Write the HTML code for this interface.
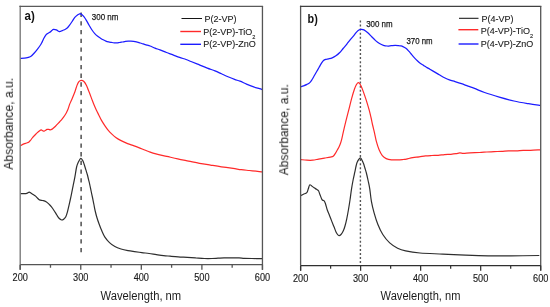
<!DOCTYPE html>
<html><head><meta charset="utf-8"><style>
html,body{margin:0;padding:0;background:#fff;width:550px;height:307px;overflow:hidden}
svg{display:block} text{will-change:transform}
</style></head><body>
<svg width="550" height="307" viewBox="0 0 550 307">
<style>
.tl{font-family:"Liberation Sans",sans-serif;font-size:10px;fill:#1c1c1c;stroke:#1c1c1c;stroke-width:0.15px}
.xl{font-family:"Liberation Sans",sans-serif;font-size:12px;fill:#1c1c1c}
.yl{font-family:"Liberation Sans",sans-serif;font-size:12px;fill:#1c1c1c}
.lg{font-family:"Liberation Sans",sans-serif;font-size:9px;fill:#1c1c1c;stroke:#1c1c1c;stroke-width:0.12px}
.an{font-family:"Liberation Sans",sans-serif;font-size:9.3px;fill:#1a1a1a;stroke:#1a1a1a;stroke-width:0.25px}
.pl{font-family:"Liberation Sans",sans-serif;font-size:12px;font-weight:bold;fill:#111}
</style>
<rect width="550" height="307" fill="#fff"/>
<!-- panel a -->
<line x1="81.1" y1="12.58" x2="81.1" y2="252.7" stroke="#333" stroke-width="1.3" stroke-dasharray="4.3 4.42"/>
<path d="M20.40,193.60 C20.98,193.60 22.83,193.65 23.90,193.60 C24.97,193.55 25.92,193.55 26.80,193.30 C27.68,193.05 28.47,192.10 29.20,192.10 C29.93,192.10 30.47,192.85 31.20,193.30 C31.93,193.75 32.87,194.33 33.60,194.80 C34.33,195.27 34.93,195.53 35.60,196.10 C36.27,196.67 36.95,197.57 37.60,198.20 C38.25,198.83 38.68,199.52 39.50,199.90 C40.32,200.28 41.60,200.30 42.50,200.50 C43.40,200.70 44.10,200.75 44.90,201.10 C45.70,201.45 46.40,201.87 47.30,202.60 C48.20,203.33 49.40,204.52 50.30,205.50 C51.20,206.48 51.88,207.35 52.70,208.50 C53.52,209.65 54.52,211.32 55.20,212.40 C55.88,213.48 56.20,214.07 56.80,215.00 C57.40,215.93 57.98,217.17 58.80,218.00 C59.62,218.83 60.85,219.83 61.70,220.00 C62.55,220.17 63.22,219.53 63.90,219.00 C64.58,218.47 65.23,217.90 65.80,216.80 C66.37,215.70 66.82,214.10 67.30,212.40 C67.78,210.70 68.22,208.67 68.70,206.60 C69.18,204.53 69.77,201.97 70.20,200.00 C70.63,198.03 70.82,197.15 71.30,194.80 C71.78,192.45 72.50,188.88 73.10,185.90 C73.70,182.92 74.32,180.05 74.90,176.90 C75.48,173.75 76.00,169.52 76.60,167.00 C77.20,164.48 77.79,163.25 78.50,161.80 C79.21,160.35 80.12,158.45 80.85,158.30 C81.58,158.15 82.33,159.82 82.90,160.90 C83.48,161.98 83.82,163.35 84.30,164.80 C84.78,166.25 85.30,167.98 85.80,169.60 C86.30,171.22 86.85,172.87 87.30,174.50 C87.75,176.13 88.10,177.77 88.50,179.40 C88.90,181.03 89.27,182.37 89.70,184.30 C90.13,186.23 90.62,188.72 91.10,191.00 C91.58,193.28 92.13,195.75 92.60,198.00 C93.07,200.25 93.47,202.33 93.90,204.50 C94.33,206.67 94.70,208.83 95.20,211.00 C95.70,213.17 96.25,215.33 96.90,217.50 C97.55,219.67 98.30,221.82 99.10,224.00 C99.90,226.18 100.73,228.42 101.70,230.60 C102.67,232.78 103.60,235.10 104.90,237.10 C106.20,239.10 107.83,241.02 109.50,242.60 C111.17,244.18 112.98,245.53 114.90,246.60 C116.82,247.67 118.82,248.33 121.00,249.00 C123.18,249.67 125.75,250.17 128.00,250.60 C130.25,251.03 132.20,251.27 134.50,251.60 C136.80,251.93 139.37,252.28 141.80,252.60 C144.23,252.92 146.67,253.17 149.10,253.50 C151.53,253.83 153.98,254.25 156.40,254.60 C158.82,254.95 161.33,255.33 163.60,255.60 C165.87,255.87 167.57,255.98 170.00,256.20 C172.43,256.42 175.32,256.70 178.20,256.90 C181.08,257.10 184.33,257.22 187.30,257.40 C190.27,257.58 193.13,257.82 196.00,258.00 C198.87,258.18 201.83,258.42 204.50,258.50 C207.17,258.58 209.75,258.55 212.00,258.50 C214.25,258.45 216.00,258.30 218.00,258.20 C220.00,258.10 221.67,257.97 224.00,257.90 C226.33,257.83 229.48,257.80 232.00,257.80 C234.52,257.80 237.05,257.82 239.10,257.90 C241.15,257.98 242.15,258.20 244.30,258.30 C246.45,258.40 248.97,258.45 252.00,258.50 C255.03,258.55 260.75,258.58 262.50,258.60" fill="none" stroke="#2e2e2e" stroke-width="1.2" stroke-linejoin="round"/>
<path d="M20.20,145.80 C20.82,145.48 22.85,144.37 23.90,143.90 C24.95,143.43 25.65,143.32 26.50,143.00 C27.35,142.68 28.28,142.50 29.00,142.00 C29.72,141.50 30.18,140.78 30.80,140.00 C31.42,139.22 32.00,138.13 32.70,137.30 C33.40,136.47 34.27,135.73 35.00,135.00 C35.73,134.27 36.38,133.57 37.10,132.90 C37.82,132.23 38.62,131.50 39.30,131.00 C39.98,130.50 40.62,129.93 41.20,129.90 C41.78,129.87 42.32,130.58 42.80,130.80 C43.28,131.02 43.63,131.30 44.10,131.20 C44.57,131.10 45.12,130.50 45.60,130.20 C46.08,129.90 46.48,129.53 47.00,129.40 C47.52,129.27 48.15,129.33 48.70,129.40 C49.25,129.47 49.80,129.80 50.30,129.80 C50.80,129.80 51.27,129.62 51.70,129.40 C52.13,129.18 52.27,129.03 52.90,128.50 C53.53,127.97 54.53,127.13 55.50,126.20 C56.47,125.27 57.83,123.82 58.70,122.90 C59.57,121.98 59.67,121.97 60.70,120.70 C61.73,119.43 63.70,117.18 64.90,115.30 C66.10,113.42 67.08,111.30 67.90,109.40 C68.72,107.50 69.05,105.80 69.80,103.90 C70.55,102.00 71.53,100.07 72.40,98.00 C73.27,95.93 74.25,93.57 75.00,91.50 C75.75,89.43 76.25,87.23 76.90,85.60 C77.55,83.97 78.17,82.57 78.90,81.70 C79.63,80.83 80.47,80.43 81.30,80.40 C82.13,80.37 83.03,80.65 83.90,81.50 C84.77,82.35 85.77,84.08 86.50,85.50 C87.23,86.92 87.73,88.58 88.30,90.00 C88.87,91.42 89.32,92.48 89.90,94.00 C90.48,95.52 91.15,97.38 91.80,99.10 C92.45,100.82 93.05,102.48 93.80,104.30 C94.55,106.12 95.45,108.18 96.30,110.00 C97.15,111.82 98.03,113.47 98.90,115.20 C99.77,116.93 100.52,118.67 101.50,120.40 C102.48,122.13 103.67,123.93 104.80,125.60 C105.93,127.27 107.12,128.98 108.30,130.40 C109.48,131.82 110.65,132.93 111.90,134.10 C113.15,135.27 114.27,136.32 115.80,137.40 C117.33,138.48 119.13,139.57 121.10,140.60 C123.07,141.63 125.43,142.72 127.60,143.60 C129.77,144.48 131.57,144.97 134.10,145.90 C136.63,146.83 140.38,148.27 142.80,149.20 C145.22,150.13 146.42,150.72 148.60,151.50 C150.78,152.28 152.87,153.08 155.90,153.90 C158.93,154.72 163.17,155.57 166.80,156.40 C170.43,157.23 174.07,158.12 177.70,158.90 C181.33,159.68 184.97,160.37 188.60,161.10 C192.23,161.83 195.85,162.63 199.50,163.30 C203.15,163.97 206.85,164.52 210.50,165.10 C214.15,165.68 217.63,166.25 221.40,166.80 C225.17,167.35 229.78,167.92 233.10,168.40 C236.42,168.88 238.58,169.35 241.30,169.70 C244.02,170.05 246.68,170.23 249.40,170.50 C252.12,170.77 255.48,171.07 257.60,171.30 C259.72,171.53 261.35,171.80 262.10,171.90" fill="none" stroke="#ff2a2a" stroke-width="1.2" stroke-linejoin="round"/>
<path d="M20.30,58.40 C21.00,58.37 23.15,58.38 24.50,58.20 C25.85,58.02 27.32,57.62 28.40,57.30 C29.48,56.98 30.02,57.02 31.00,56.30 C31.98,55.58 33.22,54.20 34.30,53.00 C35.38,51.80 36.42,50.52 37.50,49.10 C38.58,47.68 40.00,45.75 40.80,44.50 C41.60,43.25 41.72,42.77 42.30,41.60 C42.88,40.43 43.60,38.72 44.30,37.50 C45.00,36.28 45.58,35.17 46.50,34.30 C47.42,33.43 48.92,32.92 49.80,32.30 C50.68,31.68 51.20,31.08 51.80,30.60 C52.40,30.12 52.65,29.52 53.40,29.40 C54.15,29.28 55.38,29.55 56.30,29.90 C57.22,30.25 58.20,31.27 58.90,31.50 C59.60,31.73 59.95,31.45 60.50,31.30 C61.05,31.15 61.38,30.93 62.20,30.60 C63.02,30.27 64.52,29.77 65.40,29.30 C66.28,28.83 66.83,28.45 67.50,27.80 C68.17,27.15 68.63,26.45 69.40,25.40 C70.17,24.35 71.20,22.83 72.10,21.50 C73.00,20.17 73.92,18.47 74.80,17.40 C75.68,16.33 76.58,15.70 77.40,15.10 C78.22,14.50 79.02,13.95 79.70,13.80 C80.38,13.65 80.80,13.72 81.50,14.20 C82.20,14.68 83.07,15.63 83.90,16.70 C84.73,17.77 85.63,19.18 86.50,20.60 C87.37,22.02 88.18,23.63 89.10,25.20 C90.02,26.77 91.02,28.57 92.00,30.00 C92.98,31.43 94.05,32.75 95.00,33.80 C95.95,34.85 96.78,35.57 97.70,36.30 C98.62,37.03 99.58,37.62 100.50,38.20 C101.42,38.78 102.30,39.32 103.20,39.80 C104.10,40.28 105.00,40.75 105.90,41.10 C106.80,41.45 107.68,41.68 108.60,41.90 C109.52,42.12 110.48,42.25 111.40,42.40 C112.32,42.55 113.20,42.72 114.10,42.80 C115.00,42.88 115.90,42.95 116.80,42.90 C117.70,42.85 118.58,42.65 119.50,42.50 C120.42,42.35 121.30,42.18 122.30,42.00 C123.30,41.82 124.52,41.53 125.50,41.40 C126.48,41.27 127.30,41.23 128.20,41.20 C129.10,41.17 130.00,41.17 130.90,41.20 C131.80,41.23 132.68,41.28 133.60,41.40 C134.52,41.52 135.48,41.68 136.40,41.90 C137.32,42.12 138.20,42.43 139.10,42.70 C140.00,42.97 140.90,43.22 141.80,43.50 C142.70,43.78 143.58,44.12 144.50,44.40 C145.42,44.68 146.38,44.93 147.30,45.20 C148.22,45.47 148.72,45.52 150.00,46.00 C151.28,46.48 153.33,47.45 155.00,48.10 C156.67,48.75 158.08,49.17 160.00,49.90 C161.92,50.63 164.33,51.67 166.50,52.50 C168.67,53.33 170.82,54.08 173.00,54.90 C175.18,55.72 177.42,56.63 179.60,57.40 C181.78,58.17 184.20,58.82 186.10,59.50 C188.00,60.18 189.08,60.72 191.00,61.50 C192.92,62.28 194.88,63.10 197.60,64.20 C200.32,65.30 204.40,66.98 207.30,68.10 C210.20,69.22 212.63,69.95 215.00,70.90 C217.37,71.85 219.33,72.83 221.50,73.80 C223.67,74.77 225.82,75.77 228.00,76.70 C230.18,77.63 232.60,78.65 234.60,79.40 C236.60,80.15 238.02,80.42 240.00,81.20 C241.98,81.98 244.33,83.18 246.50,84.10 C248.67,85.02 250.83,85.93 253.00,86.70 C255.17,87.47 257.97,88.22 259.50,88.70 C261.03,89.18 261.75,89.45 262.20,89.60" fill="none" stroke="#1c1cff" stroke-width="1.25" stroke-linejoin="round"/>
<line x1="20.2" y1="5.6499999999999995" x2="20.2" y2="264.65" stroke="#777" stroke-width="1.35"/>
<line x1="19.4" y1="6.35" x2="263.09999999999997" y2="6.35" stroke="#5a5a5a" stroke-width="1.3"/>
<line x1="262.45" y1="6.35" x2="262.45" y2="269.84999999999997" stroke="#555" stroke-width="1.3"/>
<line x1="20.2" y1="264.65" x2="262.45" y2="264.65" stroke="#555" stroke-width="1.3"/>
<line x1="20.2" y1="264.65" x2="20.2" y2="269.84999999999997" stroke="#6a6a6a" stroke-width="1.5"/>
<g stroke="#555" stroke-width="1.3"><line x1="20.20" y1="264.65" x2="20.20" y2="269.85" />
<line x1="50.48" y1="264.65" x2="50.48" y2="267.75" />
<line x1="80.76" y1="264.65" x2="80.76" y2="269.85" />
<line x1="111.04" y1="264.65" x2="111.04" y2="267.75" />
<line x1="141.32" y1="264.65" x2="141.32" y2="269.85" />
<line x1="171.61" y1="264.65" x2="171.61" y2="267.75" />
<line x1="201.89" y1="264.65" x2="201.89" y2="269.85" />
<line x1="232.17" y1="264.65" x2="232.17" y2="267.75" />
<line x1="262.45" y1="264.65" x2="262.45" y2="269.85" /></g>
<g><text x="12.55" y="281.20" class="tl" textLength="15.3" lengthAdjust="spacingAndGlyphs">200</text>
<text x="73.11" y="281.20" class="tl" textLength="15.3" lengthAdjust="spacingAndGlyphs">300</text>
<text x="133.67" y="281.20" class="tl" textLength="15.3" lengthAdjust="spacingAndGlyphs">400</text>
<text x="194.24" y="281.20" class="tl" textLength="15.3" lengthAdjust="spacingAndGlyphs">500</text>
<text x="254.80" y="281.20" class="tl" textLength="15.3" lengthAdjust="spacingAndGlyphs">600</text></g>
<text x="100.6" y="300.2" class="xl" textLength="80.6" lengthAdjust="spacingAndGlyphs">Wavelength, nm</text>
<text transform="translate(12.9,123.7) rotate(-90)" x="-46" y="0" class="yl" textLength="92" lengthAdjust="spacingAndGlyphs">Absorbance, a.u.</text>
<text x="24.6" y="19.8" class="pl" textLength="10.2" lengthAdjust="spacingAndGlyphs">a)</text>
<text x="91.8" y="19.7" class="an" textLength="26.6" lengthAdjust="spacingAndGlyphs">300 nm</text>
<line x1="181.5" y1="18.5" x2="202" y2="18.5" stroke="#151515" stroke-width="1.05"/>
<line x1="180.3" y1="31.5" x2="201" y2="31.5" stroke="#ff2a2a" stroke-width="1.4"/>
<line x1="180.3" y1="44.3" x2="201" y2="44.3" stroke="#1c1cff" stroke-width="1.4"/>
<text x="204.6" y="22.2" class="lg">P(2-VP)</text>
<text x="203.2" y="34.9" class="lg">P(2-VP)-TiO<tspan font-size="5.6" dy="4">2</tspan></text>
<text x="203.2" y="47.2" class="lg">P(2-VP)-ZnO</text>
<!-- panel b -->
<line x1="360.4" y1="20.4" x2="360.4" y2="263.1" stroke="#555" stroke-width="1.4" stroke-dasharray="2 2.08"/>
<path d="M300.90,195.60 C301.32,195.37 302.42,194.68 303.40,194.20 C304.38,193.72 305.98,193.60 306.80,192.70 C307.62,191.80 307.82,190.10 308.30,188.80 C308.78,187.50 309.13,185.38 309.70,184.90 C310.27,184.42 310.97,185.42 311.70,185.90 C312.43,186.38 313.28,187.23 314.10,187.80 C314.92,188.37 315.87,188.80 316.60,189.30 C317.33,189.80 317.93,189.90 318.50,190.80 C319.07,191.70 319.42,193.23 320.00,194.70 C320.58,196.17 321.35,198.60 322.00,199.60 C322.65,200.60 323.33,200.05 323.90,200.70 C324.47,201.35 324.83,201.95 325.40,203.50 C325.97,205.05 326.60,207.97 327.30,210.00 C328.00,212.03 328.85,213.80 329.60,215.70 C330.35,217.60 331.05,219.50 331.80,221.40 C332.55,223.30 333.33,225.20 334.10,227.10 C334.87,229.00 335.63,231.40 336.40,232.80 C337.17,234.20 337.93,235.22 338.70,235.50 C339.47,235.78 340.25,235.23 341.00,234.50 C341.75,233.77 342.53,232.52 343.20,231.10 C343.87,229.68 344.42,228.00 345.00,226.00 C345.58,224.00 346.13,221.77 346.70,219.10 C347.27,216.43 347.85,213.18 348.40,210.00 C348.95,206.82 349.48,203.48 350.00,200.00 C350.52,196.52 350.97,192.52 351.50,189.10 C352.03,185.68 352.65,182.32 353.20,179.50 C353.75,176.68 354.30,174.53 354.80,172.20 C355.30,169.87 355.77,167.25 356.20,165.50 C356.63,163.75 356.70,162.98 357.40,161.70 C358.10,160.42 359.42,157.58 360.40,157.80 C361.38,158.02 362.55,161.30 363.30,163.00 C364.05,164.70 364.37,166.25 364.90,168.00 C365.43,169.75 365.95,171.33 366.50,173.50 C367.05,175.67 367.65,178.40 368.20,181.00 C368.75,183.60 369.27,185.70 369.80,189.10 C370.33,192.50 370.68,197.45 371.40,201.40 C372.12,205.35 373.03,209.00 374.10,212.80 C375.17,216.60 376.35,220.58 377.80,224.20 C379.25,227.82 380.82,231.38 382.80,234.50 C384.78,237.62 387.23,240.62 389.70,242.90 C392.17,245.18 394.95,246.87 397.60,248.20 C400.25,249.53 401.87,250.10 405.60,250.90 C409.33,251.70 413.82,252.47 420.00,253.00 C426.18,253.53 435.12,253.73 442.70,254.10 C450.28,254.47 457.92,254.90 465.50,255.20 C473.08,255.50 480.63,255.78 488.20,255.90 C495.77,256.02 502.38,255.97 510.90,255.90 C519.42,255.83 534.57,255.57 539.30,255.50" fill="none" stroke="#2e2e2e" stroke-width="1.2" stroke-linejoin="round"/>
<path d="M301.00,159.60 C301.97,159.70 304.85,160.10 306.80,160.20 C308.75,160.30 310.73,160.38 312.70,160.20 C314.67,160.02 316.65,159.45 318.60,159.10 C320.55,158.75 322.45,158.43 324.40,158.10 C326.35,157.77 328.83,157.42 330.30,157.10 C331.77,156.78 332.30,156.90 333.20,156.20 C334.10,155.50 334.97,154.02 335.70,152.90 C336.43,151.78 337.02,150.57 337.60,149.50 C338.18,148.43 338.70,147.58 339.20,146.50 C339.70,145.42 340.17,144.28 340.60,143.00 C341.03,141.72 341.40,140.42 341.80,138.80 C342.20,137.18 342.35,136.12 343.00,133.30 C343.65,130.48 344.75,125.75 345.70,121.90 C346.65,118.05 347.72,114.08 348.70,110.20 C349.68,106.32 350.63,102.13 351.60,98.60 C352.57,95.07 353.68,91.35 354.50,89.00 C355.32,86.65 355.93,85.55 356.50,84.50 C357.07,83.45 357.40,82.90 357.90,82.70 C358.40,82.50 358.95,82.72 359.50,83.30 C360.05,83.88 360.57,84.82 361.20,86.20 C361.83,87.58 362.45,89.23 363.30,91.60 C364.15,93.97 365.32,97.30 366.30,100.40 C367.28,103.50 368.42,107.35 369.20,110.20 C369.98,113.05 370.43,115.03 371.00,117.50 C371.57,119.97 372.02,122.45 372.60,125.00 C373.18,127.55 373.85,129.98 374.50,132.80 C375.15,135.62 375.73,139.07 376.50,141.90 C377.27,144.73 378.13,147.52 379.10,149.80 C380.07,152.08 381.12,154.13 382.30,155.60 C383.48,157.07 384.67,157.90 386.20,158.60 C387.73,159.30 389.53,159.58 391.50,159.80 C393.47,160.02 396.05,159.95 398.00,159.90 C399.95,159.85 401.80,159.63 403.20,159.50 C404.60,159.37 404.82,159.42 406.40,159.10 C407.98,158.78 410.58,157.97 412.70,157.60 C414.82,157.23 416.97,157.18 419.10,156.90 C421.23,156.62 423.38,156.13 425.50,155.90 C427.62,155.67 429.68,155.60 431.80,155.50 C433.92,155.40 436.08,155.45 438.20,155.30 C440.32,155.15 442.38,154.77 444.50,154.60 C446.62,154.43 448.98,154.45 450.90,154.30 C452.82,154.15 454.52,153.93 456.00,153.70 C457.48,153.47 458.53,152.97 459.80,152.90 C461.07,152.83 461.90,153.32 463.60,153.30 C465.30,153.28 467.35,152.93 470.00,152.80 C472.65,152.67 476.70,152.63 479.50,152.50 C482.30,152.37 484.37,152.15 486.80,152.00 C489.23,151.85 491.67,151.70 494.10,151.60 C496.53,151.50 498.98,151.53 501.40,151.40 C503.82,151.27 506.18,150.88 508.60,150.80 C511.02,150.72 513.47,150.97 515.90,150.90 C518.33,150.83 520.77,150.50 523.20,150.40 C525.63,150.30 527.65,150.40 530.50,150.30 C533.35,150.20 538.67,149.88 540.30,149.80" fill="none" stroke="#ff2a2a" stroke-width="1.2" stroke-linejoin="round"/>
<path d="M300.70,86.70 C301.18,86.55 302.55,86.18 303.60,85.80 C304.65,85.42 305.97,84.93 307.00,84.40 C308.03,83.87 308.95,83.42 309.80,82.60 C310.65,81.78 311.33,80.68 312.10,79.50 C312.87,78.32 313.63,76.83 314.40,75.50 C315.17,74.17 315.93,72.83 316.70,71.50 C317.47,70.17 318.25,68.82 319.00,67.50 C319.75,66.18 320.45,64.77 321.20,63.60 C321.95,62.43 322.73,61.22 323.50,60.50 C324.27,59.78 324.95,59.58 325.80,59.30 C326.65,59.02 327.53,59.05 328.60,58.80 C329.67,58.55 330.98,58.30 332.20,57.80 C333.42,57.30 334.68,56.63 335.90,55.80 C337.12,54.97 338.30,54.02 339.50,52.80 C340.70,51.58 341.90,49.92 343.10,48.50 C344.30,47.08 345.50,45.77 346.70,44.30 C347.90,42.83 349.08,41.20 350.30,39.70 C351.52,38.20 352.88,36.65 354.00,35.30 C355.12,33.95 356.10,32.52 357.00,31.60 C357.90,30.68 358.68,30.17 359.40,29.80 C360.12,29.43 360.55,29.38 361.30,29.40 C362.05,29.42 362.82,29.33 363.90,29.90 C364.98,30.47 366.50,31.67 367.80,32.80 C369.10,33.93 370.40,35.40 371.70,36.70 C373.00,38.00 374.30,39.47 375.60,40.60 C376.90,41.73 378.20,42.72 379.50,43.50 C380.80,44.28 382.10,44.88 383.40,45.30 C384.70,45.72 386.00,45.93 387.30,46.00 C388.60,46.07 389.90,45.80 391.20,45.70 C392.50,45.60 393.88,45.42 395.10,45.40 C396.32,45.38 397.60,45.52 398.50,45.60 C399.40,45.68 399.77,45.73 400.50,45.90 C401.23,46.07 402.00,46.20 402.90,46.60 C403.80,47.00 404.92,47.53 405.90,48.30 C406.88,49.07 407.83,50.13 408.80,51.20 C409.77,52.27 410.72,53.55 411.70,54.70 C412.68,55.85 413.72,57.05 414.70,58.10 C415.68,59.15 416.63,60.10 417.60,61.00 C418.57,61.90 419.52,62.77 420.50,63.50 C421.48,64.23 422.52,64.78 423.50,65.40 C424.48,66.02 425.33,66.57 426.40,67.20 C427.47,67.83 428.50,68.38 429.90,69.20 C431.30,70.02 433.17,71.13 434.80,72.10 C436.43,73.07 438.08,74.07 439.70,75.00 C441.32,75.93 442.88,76.88 444.50,77.70 C446.12,78.52 447.65,79.25 449.40,79.90 C451.15,80.55 452.98,80.97 455.00,81.60 C457.02,82.23 459.33,82.95 461.50,83.70 C463.67,84.45 465.83,85.32 468.00,86.10 C470.17,86.88 471.73,87.33 474.50,88.40 C477.27,89.47 480.47,91.05 484.60,92.50 C488.73,93.95 494.42,95.68 499.30,97.10 C504.18,98.52 509.02,99.90 513.90,101.00 C518.78,102.10 524.20,102.97 528.60,103.70 C533.00,104.43 538.35,105.12 540.30,105.40" fill="none" stroke="#1c1cff" stroke-width="1.25" stroke-linejoin="round"/>
<line x1="300.6" y1="5.6499999999999995" x2="300.6" y2="265.6" stroke="#555" stroke-width="1.3"/>
<line x1="299.95000000000005" y1="6.3" x2="541.35" y2="6.3" stroke="#404040" stroke-width="1.3"/>
<line x1="540.7" y1="6.3" x2="540.7" y2="270.6" stroke="#555" stroke-width="1.3"/>
<line x1="300.6" y1="265.6" x2="540.7" y2="265.6" stroke="#303030" stroke-width="1.4"/>
<line x1="300.6" y1="265.6" x2="300.6" y2="270.6" stroke="#444" stroke-width="1.3"/>
<g stroke="#333" stroke-width="1.25"><line x1="300.60" y1="265.60" x2="300.60" y2="270.80" />
<line x1="330.61" y1="265.60" x2="330.61" y2="268.70" />
<line x1="360.62" y1="265.60" x2="360.62" y2="270.80" />
<line x1="390.64" y1="265.60" x2="390.64" y2="268.70" />
<line x1="420.65" y1="265.60" x2="420.65" y2="270.80" />
<line x1="450.66" y1="265.60" x2="450.66" y2="268.70" />
<line x1="480.68" y1="265.60" x2="480.68" y2="270.80" />
<line x1="510.69" y1="265.60" x2="510.69" y2="268.70" />
<line x1="540.70" y1="265.60" x2="540.70" y2="270.80" /></g>
<g><text x="292.95" y="281.80" class="tl" textLength="15.3" lengthAdjust="spacingAndGlyphs">200</text>
<text x="352.98" y="281.80" class="tl" textLength="15.3" lengthAdjust="spacingAndGlyphs">300</text>
<text x="413.00" y="281.80" class="tl" textLength="15.3" lengthAdjust="spacingAndGlyphs">400</text>
<text x="473.03" y="281.80" class="tl" textLength="15.3" lengthAdjust="spacingAndGlyphs">500</text>
<text x="533.05" y="281.80" class="tl" textLength="15.3" lengthAdjust="spacingAndGlyphs">600</text></g>
<text x="380.6" y="300.3" class="xl" textLength="79.8" lengthAdjust="spacingAndGlyphs">Wavelength, nm</text>
<text transform="translate(288.2,129.7) rotate(-90)" x="-45.5" y="0" class="yl" textLength="91" lengthAdjust="spacingAndGlyphs">Absorbance, a.u.</text>
<text x="307.6" y="22.8" class="pl" textLength="10.2" lengthAdjust="spacingAndGlyphs">b)</text>
<text x="366.2" y="27.1" class="an" textLength="26.4" lengthAdjust="spacingAndGlyphs">300 nm</text>
<text x="406.4" y="43.9" class="an" textLength="26.2" lengthAdjust="spacingAndGlyphs">370 nm</text>
<line x1="459" y1="18.3" x2="478.5" y2="18.3" stroke="#151515" stroke-width="1.05"/>
<line x1="458.4" y1="29.7" x2="478.3" y2="29.7" stroke="#ff2a2a" stroke-width="1.4"/>
<line x1="458.6" y1="44" x2="478.5" y2="44" stroke="#1c1cff" stroke-width="1.4"/>
<text x="481.4" y="21.8" class="lg">P(4-VP)</text>
<text x="480.8" y="34" class="lg">P(4-VP)-TiO<tspan font-size="5.6" dy="4">2</tspan></text>
<text x="480.8" y="47" class="lg">P(4-VP)-ZnO</text>
</svg>
</body></html>
